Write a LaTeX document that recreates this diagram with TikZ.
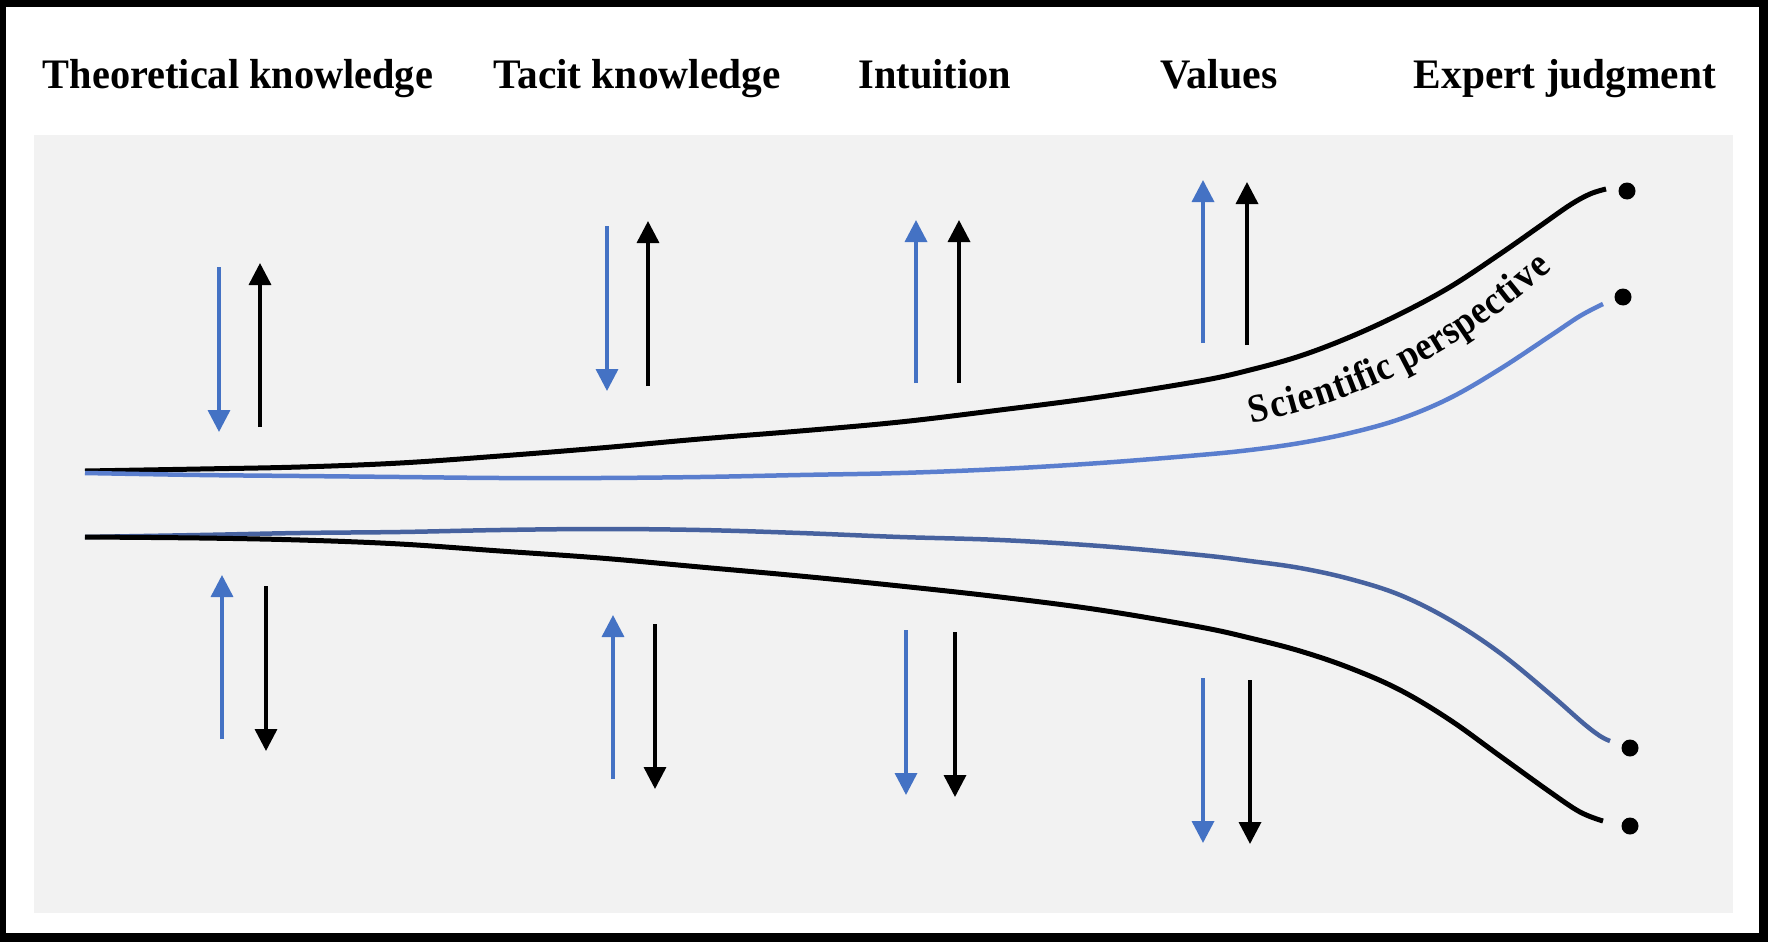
\documentclass[tikz,border=0pt]{standalone}
\usepackage{fontspec}
\setmainfont{Liberation Serif}
\usetikzlibrary{arrows.meta}
\definecolor{panel}{HTML}{F2F2F2}
\definecolor{arrblue}{HTML}{4472C4}
\definecolor{lineblueA}{HTML}{5A7ECE}
\definecolor{lineblueB}{HTML}{47629F}
\begin{document}
\begin{tikzpicture}[x=1pt,y=-1pt,
  heading/.style={anchor=base, font=\fontsize{42}{48}\selectfont\bfseries, inner sep=0pt},
  blk/.style={line width=3.5pt, black, -{Triangle[length=22pt,width=22pt]}},
  blu/.style={line width=3.5pt, arrblue, -{Triangle[length=22pt,width=22pt]}},
  curveK/.style={line width=5pt, black, line cap=butt},
  curveA/.style={line width=4.5pt, lineblueA, line cap=butt},
  curveB/.style={line width=4.5pt, lineblueB, line cap=butt},
  dot/.style={circle, fill=black, inner sep=0pt, minimum size=17pt},
  lab/.style={font=\fontsize{40}{44}\selectfont\bfseries, inner sep=0pt, sloped, anchor=base}]
\useasboundingbox (0,0) rectangle (1768,942);
\fill[black] (0,0) rectangle (1768,942);
\fill[white] (6,7) rectangle (1759,933);
\fill[panel] (34,135) rectangle (1733,913);

% headings
\node[heading] (h1) at (238,88) {\scalebox{0.96}[1]{Theoretical knowledge}};
\node[heading] (h2) at (637,88) {\scalebox{0.985}[1]{Tacit knowledge}};
\node[heading] (h3) at (935,88) {\scalebox{0.96}[1]{Intuition}};
\node[heading] (h4) at (1219,88) {Values};
\node[heading] (h5) at (1565,88) {\scalebox{0.985}[1]{Expert judgment}};

% curves
\draw[curveK] plot[smooth, tension=0.6] coordinates {(85,471) (200,469) (300,467) (400,463) (500,456) (600,448) (700,439) (800,431) (900,422) (1000,410) (1100,397) (1200,381) (1250,370) (1300,356) (1350,337) (1400,314) (1450,287) (1500,254) (1540,226) (1570,205) (1590,194) (1606,189)};
\draw[curveA] plot[smooth, tension=0.6] coordinates {(85,473) (200,475) (300,476) (400,477) (500,478) (600,478) (700,477) (800,475) (900,473) (1000,469) (1100,463) (1200,455) (1250,450) (1300,443) (1350,433) (1400,419) (1450,398) (1500,369) (1550,336) (1580,316) (1603,304)};
\draw[curveB] plot[smooth, tension=0.6] coordinates {(85,537) (200,535) (300,533) (400,532) (500,530) (600,529) (700,530) (800,533) (900,537) (1000,540) (1100,546) (1200,555) (1250,561) (1300,568) (1350,579) (1400,595) (1450,620) (1500,653) (1550,694) (1583,723) (1600,736) (1610,741)};
\draw[curveK] plot[smooth, tension=0.6] coordinates {(85,537) (200,538) (300,540) (400,544) (500,551) (600,558) (700,567) (800,576) (900,586) (1000,597) (1100,610) (1200,627) (1250,638) (1300,651) (1350,668) (1400,690) (1450,720) (1500,756) (1550,792) (1580,812) (1603,821)};

% end dots
\node[dot] (d1) at (1627,191) {};
\node[dot] (d2) at (1623,297) {};
\node[dot] (d3) at (1630,748) {};
\node[dot] (d4) at (1630,826) {};

% arrows
\foreach \n/\xa/\ya/\yb/\c in {
  1/219/267/432/blu, 2/260/427/263/blk,
  3/607/226/391/blu, 4/648/386/221/blk,
  5/916/383/220/blu, 6/959/383/220/blk,
  7/1203/343/180/blu, 8/1247/345/182/blk,
  9/222/739/575/blu, 10/266/586/751/blk,
  11/613/779/615/blu, 12/655/624/789/blk,
  13/906/630/795/blu, 14/955/632/797/blk,
  15/1203/678/843/blu, 16/1250/680/844/blk}{
  \coordinate (a\n s) at (\xa,\ya);
  \coordinate (a\n e) at (\xa,\yb);
  \draw[\c] (a\n s) -- (a\n e);
}

% label along the channel, letter by letter
\coordinate (ls) at (1250,424);
\coordinate (le) at (1564,258);
\path (ls) .. controls (1380,396) and (1470,345) .. (le)
  foreach \t/\ch [count=\k] in {0.030/S,0.083/c,0.121/i,0.160/e,0.213/n,0.260/t,0.293/i,0.325/f,0.358/i,0.396/c,
    0.476/p,0.529/e,0.576/r,0.621/s,0.671/p,0.724/e,0.771/c,0.813/t,0.845/i,0.887/v,0.937/e}
  {node[lab, pos=\t] (lc\k) {\scalebox{0.9}[1]{\ch}}};
\end{tikzpicture}
\end{document}
